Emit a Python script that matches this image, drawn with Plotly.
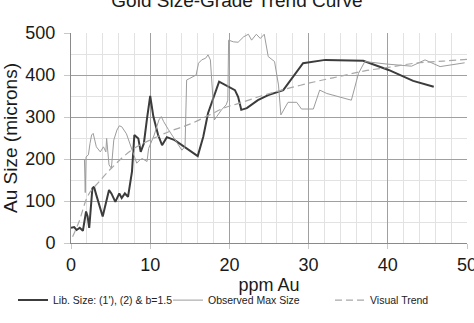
import plotly.graph_objects as go

lib_x = [0, 0.4, 0.7, 1.1, 1.5, 1.9, 2.1, 2.3, 2.7, 2.9, 3.2, 4.0, 4.8, 5.1, 5.6, 6.1, 6.4, 6.8, 7.2, 7.7,
         8.0, 8.5, 8.8, 9.2, 9.6, 10.0, 10.4, 11.0, 11.5, 12.1, 13.1, 14.0, 16.0, 16.7, 17.3, 18.7, 20.3,
         20.7, 21.1, 21.5, 22.2, 23.6, 24.9, 26.8, 29.3, 32.1, 36.9, 40.1, 43.2, 45.8]
lib_y = [36, 38, 31, 36, 29, 75, 63, 36, 130, 134, 114, 63, 126, 118, 98, 118, 107, 118, 110, 170,
         257, 249, 217, 237, 297, 350, 301, 257, 233, 252, 245, 233, 207, 253, 309, 384, 368,
         364, 348, 317, 321, 340, 352, 364, 428, 436, 434, 412, 386, 372]

obs_x = [1.7, 1.8, 1.9, 2.2, 2.4, 2.6, 2.8, 3.2, 3.7, 4.1, 4.4, 4.5, 4.8, 5.1, 5.4, 5.8, 6.1, 6.4, 7.0,
         7.6, 8.3, 8.7, 9.0, 9.6, 9.8, 10.5, 11.1, 11.4, 11.7, 12.3, 13.0, 14.0, 14.4, 14.6, 15.0, 15.8,
         16.1, 16.5, 17.0, 17.3, 17.6, 17.9, 18.1, 18.4, 19.0, 19.6, 19.8, 19.9, 20.5, 21.1, 21.8, 22.4,
         22.8, 23.4, 23.9, 24.4, 24.9, 25.7, 26.2, 26.5, 27.4, 28.5, 29.1, 30.6, 31.4, 32.3, 35.4, 36.3,
         37.1, 39.9, 43.0, 44.7, 46.6, 49.7]
obs_y = [198, 120, 205, 210, 237, 257, 261, 229, 217, 229, 217, 249, 186, 178, 245, 269, 279, 277, 260,
         229, 190, 198, 201, 194, 225, 257, 293, 301, 289, 270, 250, 221, 230, 388, 392, 400,
         428, 436, 440, 448, 436, 360, 293, 301, 317, 329, 340, 483, 479, 478, 491, 497,
         483, 497, 487, 497, 444, 432, 376, 305, 335, 335, 319, 319, 364, 356, 340, 404,
         432, 426, 421, 436, 420, 429]

trend_x = [0.2, 1.0, 2.2, 3.5, 5.1, 7.7, 10.4, 12.5, 15.0, 17.5, 19.4, 21.3, 24.0, 26.6, 30.8, 34.0,
           37.1, 40.0, 43.4, 47.0, 50.0]
trend_y = [15, 50, 115, 145, 178, 222, 249, 266, 283, 305, 322, 333, 350, 364, 384, 397,
           410, 418, 428, 433, 437]

x_ticks = [0, 10, 20, 30, 40, 50]
y_ticks = [0, 100, 200, 300, 400, 500]

FONT = "Liberation Sans, Arial, sans-serif"
LEG_FONT = dict(size=10.5, family=FONT, color="#222")
LEG_Y = -0.272

fig = go.Figure()
fig.add_trace(go.Scatter(x=lib_x, y=lib_y, mode="lines", name="Lib. Size: (1'), (2) & b=1.5",
                         line=dict(color="#3c3c3c", width=2), legend="legend"))
fig.add_trace(go.Scatter(x=obs_x, y=obs_y, mode="lines", name="Observed Max Size",
                         line=dict(color="#9c9c9c", width=1), legend="legend2"))
fig.add_trace(go.Scatter(x=trend_x, y=trend_y, mode="lines", name="Visual Trend",
                         line=dict(color="#a8a8a8", width=1.2, dash="7px,4px"), line_shape="spline",
                         legend="legend3"))

def leg(px):
    return dict(orientation="h", x=(px - 71) / 396, xanchor="left", y=LEG_Y, yanchor="middle",
                font=LEG_FONT, itemwidth=30, bgcolor="rgba(0,0,0,0)", borderwidth=0)

fig.update_layout(
    width=474, height=323,
    margin=dict(l=71, r=7, t=33, b=80, autoexpand=False),
    paper_bgcolor="white", plot_bgcolor="white",
    font=dict(family=FONT, color="#1a1a1a"),
    title=dict(text="Gold Size-Grade Trend Curve", x=0.5, xanchor="center", y=1.0, yanchor="middle",
               yref="container", font=dict(size=19, family=FONT, color="#1a1a1a")),
    showlegend=True,
    legend=leg(13), legend2=leg(168), legend3=leg(330),
    xaxis=dict(range=[0, 50], tickvals=x_ticks, ticktext=[str(v) for v in x_ticks],
               showgrid=True, gridcolor="#a0a0a0", gridwidth=1,
               minor=dict(dtick=2, showgrid=True, gridcolor="#e2e2e2", gridwidth=1),
               showline=True, linecolor="#8a8a8a", linewidth=1,
               ticks="outside", ticklen=5, tickcolor="#c8c8c8",
               tickfont=dict(size=18), zeroline=False, ticklabeloverflow="allow",
               title=dict(text="ppm Au", font=dict(size=18), standoff=0)),
    yaxis=dict(range=[0, 500], tickvals=y_ticks, ticktext=[str(v) for v in y_ticks],
               showgrid=True, gridcolor="#a0a0a0", gridwidth=1,
               minor=dict(dtick=50, showgrid=True, gridcolor="#e2e2e2", gridwidth=1),
               showline=True, linecolor="#8a8a8a", linewidth=1,
               ticks="outside", ticklen=6, tickcolor="#c8c8c8",
               tickfont=dict(size=18), zeroline=False, ticklabelstandoff=5,
               title=dict(text="Au Size (microns)", font=dict(size=19), standoff=6)),
)

fig.write_html("out.html")
